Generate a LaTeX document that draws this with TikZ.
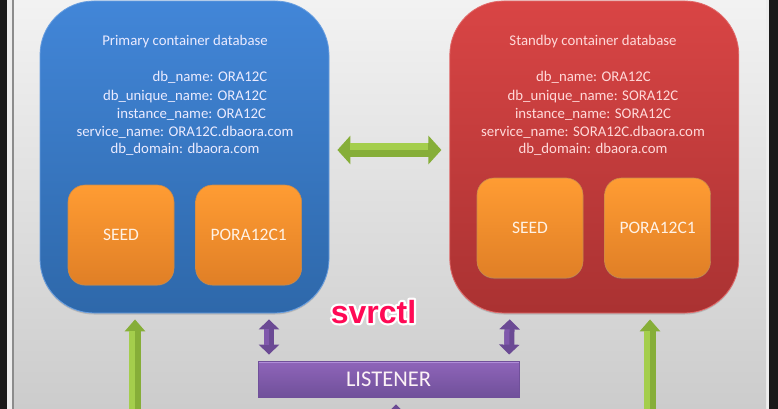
\documentclass[tikz,border=0pt]{standalone}
\usepackage{fontspec}
\setmainfont{Carlito}
\newfontfamily\svrfont{Liberation Sans}
\usetikzlibrary{arrows.meta,positioning,shadows}
\definecolor{blueTop}{HTML}{4286D8}
\definecolor{blueBot}{HTML}{2E68AA}
\definecolor{redTop}{HTML}{D94545}
\definecolor{redBot}{HTML}{AA3232}
\definecolor{orangeTop}{HTML}{FF9C33}
\definecolor{orangeBot}{HTML}{E07F26}
\definecolor{purpleTop}{HTML}{8F65BA}
\definecolor{purpleBot}{HTML}{70509A}
\definecolor{greenMid}{HTML}{86AE38}
\definecolor{greenHi}{HTML}{A4CE4C}
\definecolor{purpleMid}{HTML}{6B4A94}
\definecolor{purpleHi}{HTML}{8058AC}
\definecolor{purpleRim}{HTML}{B08CD8}
\definecolor{svrRed}{HTML}{FF0A55}
\newcommand{\outlinetext}[1]{\leavevmode\rlap{\special{pdf:code 1 Tr 4.5 w 1 j 1 1 1 RG}#1\special{pdf:code 0 Tr 0.4 w 0 G}}#1}

\begin{document}
\begin{tikzpicture}[x=1pt,y=-1pt]
\tikzset{dbbox/.style={rectangle,rounded corners=54pt,minimum width=289pt,minimum height=312pt,inner sep=0pt,line width=.8pt,drop shadow={shadow xshift=0pt,shadow yshift=-1.5pt,opacity=.35}}}
\tikzset{pdbbox/.style={rectangle,rounded corners=17pt,minimum width=106pt,minimum height=100pt,inner sep=0pt,text=white!90!orange,font=\fontsize{17.5}{20}\selectfont,top color=orangeTop,bottom color=orangeBot,draw=orange!70!black!70,line width=.6pt,drop shadow={shadow xshift=0pt,shadow yshift=-1pt,opacity=.35}}}
\tikzset{infoblue/.style={anchor=base,text=blue!8!white,font=\fontsize{14.8}{18}\selectfont}}
\tikzset{infored/.style={anchor=base,text=red!15!white,font=\fontsize{14.8}{18}\selectfont}}
\tikzset{greenlink/.style={draw=greenMid,line width=14pt,{Triangle[length=13pt,width=28pt]}-{Triangle[length=13pt,width=28pt]},shorten <=8pt,shorten >=8pt,postaction={draw=greenHi,line width=7pt,-,shorten <=21pt,shorten >=21pt,transform canvas={yshift=3.5pt}}}}
\tikzset{greenup/.style={draw=greenMid,line width=12pt,-{Triangle[length=12pt,width=20pt]},shorten >=6pt,postaction={draw=greenHi,line width=6pt,-,shorten >=18pt,transform canvas={xshift=-3pt}}}}
\tikzset{purplelink/.style={draw=purpleMid,line width=10pt,{Triangle[length=10pt,width=20pt]}-{Triangle[length=10pt,width=20pt]},shorten <=6pt,shorten >=6pt,postaction={draw=purpleHi,line width=5pt,-,shorten <=16pt,shorten >=16pt,transform canvas={xshift=-2.5pt}}}}

\clip (0,0) rectangle (778,409);
\fill[black!90] (0,0) rectangle (778,409);
\fill[black!7] (7,0) rectangle (769,409);
\fill[black!45] (12,0) rectangle (14,409);
\shade[top color=black!5,bottom color=black!20] (14,0) rectangle (766,409);

% the two container databases
\node[dbbox,top color=blueTop,bottom color=blueBot,draw=blueTop!80!white] (primary) at (184.5,157) {};
\node[dbbox,top color=redTop,bottom color=redBot,draw=redTop!80!white,right=120pt of primary] (standby) {};

\node[infoblue] (primTitle) at (185,46) {Primary container database};
\node[infoblue] (primName) at (210,82) {db\_name: ORA12C};
\node[infoblue] (primUnique) at (185,100) {db\_unique\_name: ORA12C};
\node[infoblue] (primInst) at (191.5,118) {instance\_name: ORA12C};
\node[infoblue] (primServ) at (185,136) {service\_name: ORA12C.dbaora.com};
\node[infoblue] (primDom) at (185,153) {db\_domain: dbaora.com};

\node[infored] (stbyTitle) at (593,46) {Standby container database};
\node[infored] (stbyName) at (593.5,82) {db\_name: ORA12C};
\node[infored] (stbyUnique) at (593,100) {db\_unique\_name: SORA12C};
\node[infored] (stbyInst) at (593,118) {instance\_name: SORA12C};
\node[infored] (stbyServ) at (593,136) {service\_name: SORA12C.dbaora.com};
\node[infored] (stbyDom) at (593,153) {db\_domain: dbaora.com};

% pluggable databases
\node[pdbbox] (seedP) at (121,235) {SEED};
\node[pdbbox,right=21pt of seedP] (poraP) {PORA12C1};
\node[pdbbox] (seedS) at (530,228) {SEED};
\node[pdbbox,right=21pt of seedS] (poraS) {PORA12C1};

\node[rectangle,minimum width=261pt,minimum height=36pt,inner sep=0pt,top color=purpleTop,bottom color=purpleBot,draw=purpleBot,line width=.8pt,text=white!95!purple,font=\fontsize{22.5}{24}\selectfont,path picture={\draw[purpleRim,line width=3pt] (path picture bounding box.north west) -- (path picture bounding box.north east);},drop shadow={shadow xshift=0pt,shadow yshift=-1pt,opacity=.35}] (listener) at (388.5,379) {LISTENER};

\node[anchor=base,text=svrRed,font=\svrfont\bfseries\fontsize{32}{34}\selectfont] (svrctl) at (373.5,323) {\outlinetext{svrctl}};

\coordinate (clientP) at (135,430);
\coordinate (clientS) at (650,430);
\coordinate (clientL) at (396,430);

\draw[greenlink] ([yshift=7pt]primary.east) -- ([yshift=7pt]standby.west);
\draw[greenup] (clientP) -- (clientP |- primary.south);
\draw[greenup] (clientS) -- (clientS |- standby.south);
\draw[purplelink] ([xshift=-119.5pt]listener.north) -- ([xshift=84.5pt]primary.south);
\draw[purplelink] ([xshift=120.5pt]listener.north) -- ([xshift=-84.5pt]standby.south);
\draw[draw=purpleMid,line width=10pt,-{Triangle[length=10pt,width=20pt]},shorten >=7pt] (clientL) -- (clientL |- listener.south);
\end{tikzpicture}
\end{document}
